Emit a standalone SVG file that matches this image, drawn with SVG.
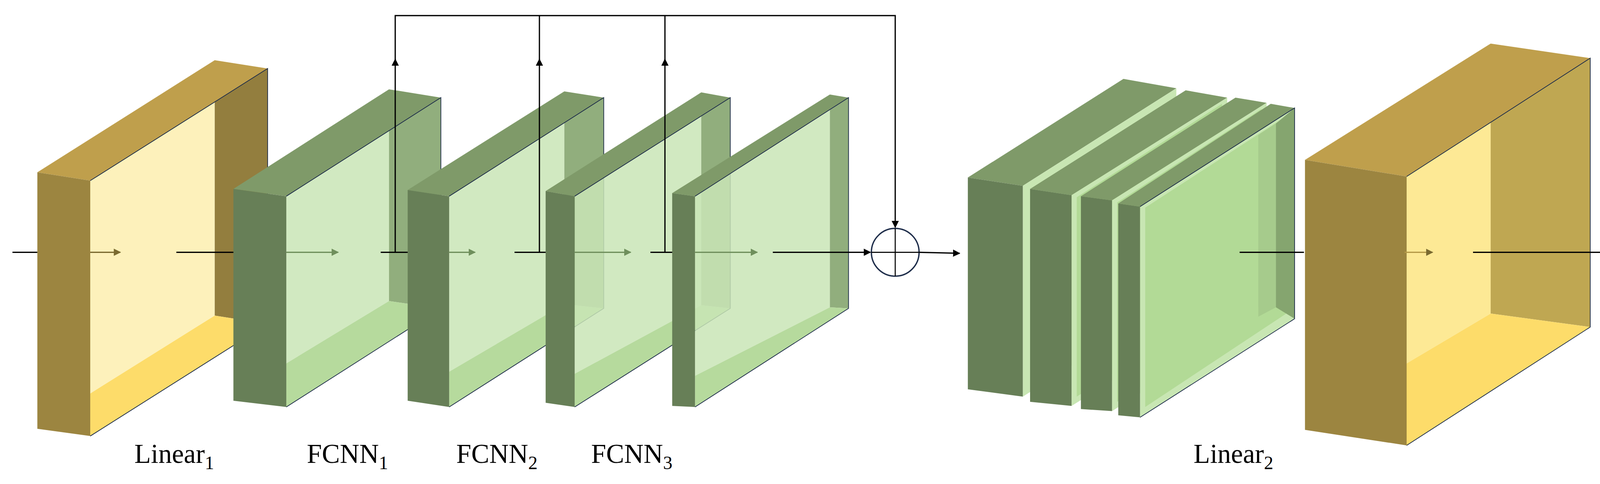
<svg xmlns="http://www.w3.org/2000/svg" width="4164" height="1238" viewBox="0 0 4164 1238">
<defs>
<style>
.ol{stroke:#1e2d4a;stroke-width:0.7;fill:none}
.yl{fill:#9c8540}.yt{fill:#bf9f4c}.yw{fill:#937e3e}.yb{fill:#fdf1bb}.yf{fill:#fddc6a}
.gl{fill:#677f57}.gt{fill:#7f9a69}.gw{fill:#85a56f;fill-opacity:0.9}.gb{fill:#c9e5b6;fill-opacity:0.85}.gf{fill:#aed692;fill-opacity:0.9}
.ln{stroke:#000;stroke-width:1.2;fill:none}
.lab{font-family:"Liberation Serif",serif;font-size:26px;fill:#000;text-anchor:middle}
</style>
<marker id="ah" viewBox="0 0 10 10" refX="9" refY="5" markerWidth="7" markerHeight="7" orient="auto" markerUnits="userSpaceOnUse"><path d="M0,0 L10,5 L0,10 z" fill="#000"/></marker>
<marker id="ahy" viewBox="0 0 10 10" refX="9" refY="5" markerWidth="7" markerHeight="7" orient="auto" markerUnits="userSpaceOnUse"><path d="M0,0 L10,5 L0,10 z" fill="#7a6a30"/></marker>
<marker id="ahg" viewBox="0 0 10 10" refX="9" refY="5" markerWidth="7" markerHeight="7" orient="auto" markerUnits="userSpaceOnUse"><path d="M0,0 L10,5 L0,10 z" fill="#6f8f5c"/></marker>
</defs>
<rect width="4164" height="1238" fill="#fff"/>
<g transform="scale(2.6556)">
<g id="linear1">
<polygon class="yb" points="87,174 207,98 207,304 87,379"/>
<polygon class="yw" points="207,98 258,66 258,312 207,304"/>
<polygon class="yf" points="87,379 207,304 258,312 87,420"/>
<polygon class="yt" points="36,166 207,58 258,66 87,174"/>
<polygon class="yl" points="36,166 87,174 87,420 36,413"/>
<polyline class="ol" points="87,420 258,312 258,66 87,174"/>
<text class="lab" x="168" y="446">Linear<tspan font-size="18" dy="6">1</tspan></text>
</g>
<g id="fcnn1">
<polygon class="gb" points="276,189 375,126 375,290 276,350"/>
<polygon class="gw" points="375,126 425,94 425,297 375,290"/>
<polygon class="gf" points="276,350 375,290 425,297 276,392"/>
<polygon class="gt" points="225,182 375,86 425,94 276,189"/>
<polygon class="gl" points="225,182 276,189 276,392 225,386"/>
<polyline class="ol" points="276,392 425,297 425,94 276,189"/>
<text class="lab" x="335" y="446">FCNN<tspan font-size="18" dy="6">1</tspan></text>
</g>
<g id="fcnn2">
<polygon class="gb" points="433,189 544,118 544,293 433,358"/>
<polygon class="gw" points="544,118 582,94 582,297 544,293"/>
<polygon class="gf" points="433,358 544,293 582,297 433,392"/>
<polygon class="gt" points="393,183 544,88 582,94 433,189"/>
<polygon class="gl" points="393,183 433,189 433,392 393,386"/>
<polyline class="ol" points="433,392 582,297 582,94 433,189"/>
<text class="lab" x="479" y="446">FCNN<tspan font-size="18" dy="6">2</tspan></text>
</g>
<g id="fcnn3">
<polygon class="gb" points="554,189 676,112 676,294 554,360"/>
<polygon class="gw" points="676,112 704,94 704,297 676,294"/>
<polygon class="gf" points="554,360 676,294 704,297 554,392"/>
<polygon class="gt" points="526,184 676,89 704,94 554,189"/>
<polygon class="gl" points="526,184 554,189 554,392 526,388"/>
<polyline class="ol" points="554,392 704,297 704,94 554,189"/>
<text class="lab" x="609" y="446">FCNN<tspan font-size="18" dy="6">3</tspan></text>
</g>
<g id="fcnn4">
<polygon class="gb" points="670,189 800,106 800,296 670,362"/>
<polygon class="gw" points="800,106 818,94 818,297 800,296"/>
<polygon class="gf" points="670,362 800,296 818,297 670,392"/>
<polygon class="gt" points="648,186 800,91 818,94 670,189"/>
<polygon class="gl" points="648,186 670,189 670,392 648,391"/>
<polyline class="ol" points="670,392 818,297 818,94 670,189"/>
</g>
<g id="oplus">
<circle cx="863" cy="243" r="23" fill="#fff" stroke="#1e2d4a" stroke-width="1.3"/>
<line x1="863" y1="220" x2="863" y2="266" stroke="#000" stroke-width="1"/>
<line x1="840" y1="243" x2="886" y2="243" stroke="#000" stroke-width="1"/>
</g>
<g id="stack">
<polygon class="gt" points="933,171 1083,76 1134,85 986,179"/>
<polygon points="986,179 1134,85 1134,288 986,382" fill="#c8e6b3"/>
<polygon class="gl" points="933,171 986,179 986,382 933,375"/>
<polygon class="gt" points="993,182 1143,87 1183,94 1033,188"/>
<polygon points="1033,188 1183,94 1183,297 1033,391" fill="#c8e6b3"/>
<polygon points="1038,190 1178,100 1178,292 1038,382" fill="#b2da96"/>
<polygon class="gl" points="993,182 1033,188 1033,391 993,387"/>
<polygon class="gt" points="1042,189 1191,94 1221,99 1072,193"/>
<polygon points="1072,193 1221,99 1221,302 1072,396" fill="#c8e6b3"/>
<polygon points="1077,195 1216,105 1216,297 1077,387" fill="#b2da96"/>
<polygon class="gl" points="1042,189 1072,193 1072,396 1042,394"/>
<polygon class="gt" points="1078,196 1225,100 1248,104 1099,199"/>
<polygon points="1099,199 1248,104 1248,307 1099,402" fill="#c8e6b3"/>
<polygon points="1104,200 1243,110 1243,300 1104,392" fill="#b2da96"/>
<polygon points="1213,130 1230,119 1230,296 1213,305" fill="#a6cb8c"/>
<polygon points="1230,119 1248,104 1248,307 1230,296" fill="#85a56f"/>
<polygon class="gl" points="1078,196 1099,199 1099,402 1078,400"/>
<polyline class="ol" points="1099,402 1248,307 1248,104 1099,199"/>
</g>
<g id="linear2">
<polygon points="1356,170 1437,118 1437,302 1356,350" fill="#fde995"/>
<polygon points="1437,118 1533,56 1533,315 1437,302" fill="#bfa752"/>
<polygon class="yf" points="1356,350 1437,302 1533,315 1356,429"/>
<polygon class="yt" points="1258,154 1437,42 1533,56 1356,170"/>
<polygon class="yl" points="1258,154 1356,170 1356,429 1258,414"/>
<polyline class="ol" points="1356,429 1533,315 1533,56 1356,170"/>
<text class="lab" x="1189" y="446">Linear<tspan font-size="18" dy="6">2</tspan></text>
</g>
<g id="connectors">
<line x1="87" y1="243" x2="116" y2="243" stroke="#7a6a30" stroke-width="1.2" marker-end="url(#ahy)"/>
<line x1="276" y1="243" x2="326" y2="243" stroke="#6f8f5c" stroke-width="1.2" marker-end="url(#ahg)"/>
<line x1="433" y1="243" x2="458" y2="243" stroke="#6f8f5c" stroke-width="1.2" marker-end="url(#ahg)"/>
<line x1="554" y1="243" x2="608" y2="243" stroke="#6f8f5c" stroke-width="1.2" marker-end="url(#ahg)"/>
<line x1="670" y1="243" x2="730" y2="243" stroke="#6f8f5c" stroke-width="1.2" marker-end="url(#ahg)"/>
<line x1="1354" y1="243" x2="1381" y2="243" stroke="#b59a48" stroke-width="1.2" marker-end="url(#ahy)"/>
<line class="ln" x1="12" y1="243" x2="36" y2="243"/>
<line class="ln" x1="170" y1="243" x2="225" y2="243"/>
<line class="ln" x1="367" y1="243" x2="393" y2="243"/>
<line class="ln" x1="496" y1="243" x2="526" y2="243"/>
<line class="ln" x1="627" y1="243" x2="648" y2="243"/>
<line class="ln" x1="745" y1="243" x2="839" y2="243" marker-end="url(#ah)"/>
<line class="ln" x1="886" y1="243" x2="925" y2="244" marker-end="url(#ah)"/>
<line class="ln" x1="1195" y1="243" x2="1257" y2="243"/>
<line class="ln" x1="1420" y1="243" x2="1556" y2="243" marker-end="url(#ah)"/>
<line class="ln" x1="381" y1="243" x2="381" y2="57" marker-end="url(#ah)"/>
<line class="ln" x1="520" y1="243" x2="520" y2="57" marker-end="url(#ah)"/>
<line class="ln" x1="641" y1="243" x2="641" y2="57" marker-end="url(#ah)"/>
<polyline class="ln" points="381,58 381,15 863,15 863,219" marker-end="url(#ah)"/>
<line class="ln" x1="520" y1="58" x2="520" y2="15"/>
<line class="ln" x1="641" y1="58" x2="641" y2="15"/>
</g>
</g>
</svg>
